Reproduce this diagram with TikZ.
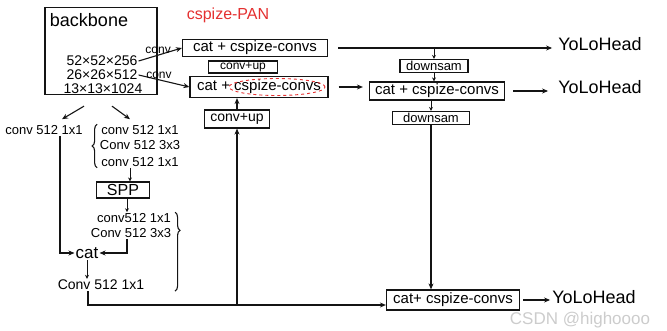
\documentclass[tikz,border=0pt]{standalone}
\usepackage{fontspec}
\setmainfont{Liberation Sans}
\usetikzlibrary{arrows.meta, positioning, shapes.geometric, decorations.pathreplacing, calc}
\definecolor{pen}{RGB}{20,20,20}
\definecolor{redpen}{RGB}{228,48,48}
\newcommand{\fsz}[1]{\fontsize{#1}{#1}\selectfont}
\tikzset{
  % --- Khoi ---------------------------------------------------
  catbox/.style={draw=pen, line width=1.2pt, inner sep=0pt, font=\fsz{15}},
  smallbox/.style={draw=pen, line width=1.1pt, inner sep=0pt, font=\fsz{13}},
  txt/.style={inner sep=1pt, font=\fsz{13}},
  head/.style={inner sep=0pt, font=\fsz{18}},
  redtxt/.style={inner sep=0pt, text=redpen, font=\fsz{16}},
  ring/.style={draw=redpen, dashed, ellipse, line width=0.9pt, inner sep=0pt},
  wm/.style={inner sep=0pt, text=gray!40, font=\fsz{17}},
  % --- Duong noi ----------------------------------------------
  arr/.style={-{Stealth[length=6pt, width=5pt]}, line width=1.1pt, draw=pen},
  arrs/.style={-{Stealth[length=4pt, width=4pt]}, line width=1pt, draw=pen},
  lbl/.style={font=\fsz{12}, inner sep=1pt},
  brc/.style={decorate, decoration={brace, amplitude=5pt}, line width=1.1pt, draw=pen}
}

\begin{document}
\begin{tikzpicture}[x=1pt, y=-1pt]
  \useasboundingbox (0,0) rectangle (667,331);

  % --- Watermark -----------------------------------------------
  \node[wm] (WM) at (580,320) {CSDN @highoooo};

  % --- Backbone ------------------------------------------------
  \node[draw=pen, line width=1.3pt, minimum width=112pt, minimum height=87pt] (BB) at (101,51) {};
  \node[txt, font=\fsz{18}] (BBN) at (89,20) {backbone};
  \node[txt, font=\fsz{14}] (F52) at (102,61) {52×52×256};
  \node[txt, font=\fsz{14}] (F26) at (102,75) {26×26×512};
  \node[txt, font=\fsz{14}] (F13) at (103,89) {13×13×1024};

  % --- cspize-PAN ----------------------------------------------
  \node[redtxt] (PAN) at (228,15) {cspize-PAN};
  \node[catbox, minimum width=145pt, minimum height=17pt] (CAT1) at (255,48) {cat + cspize-convs};
  \node[smallbox, font=\fsz{12}, minimum width=69pt, minimum height=12pt] (UP1) at (243,67) {conv+up};
  \node[catbox, minimum width=138pt, minimum height=21pt] (CAT2) at (259,87) {cat + cspize-convs};
  \node[ring, minimum width=96pt, minimum height=17pt] (RING) at ([xshift=18pt]CAT2.center) {};
  \node[smallbox, font=\fsz{14}, minimum width=65pt, minimum height=18pt] (UP2) at (237,119) {conv+up};

  % --- Cot phai: downsample ------------------------------------
  \node[smallbox, minimum width=68pt, minimum height=13pt] (DS1) at (434,66) {downsam};
  \node[catbox, minimum width=135pt, minimum height=18pt] (CAT3) at (437,91) {cat + cspize-convs};
  \node[smallbox, minimum width=77pt, minimum height=13pt] (DS2) at (431,118) {downsam};
  \node[catbox, minimum width=133pt, minimum height=20pt] (CAT4) at (453,300) {cat+ cspize-convs};

  \node[head] (H1) at (600,44) {YoLoHead};
  \node[head] (H2) at (600,87) {YoLoHead};
  \node[head] (H3) at (594,297) {YoLoHead};

  % --- Cot trai: SPP -------------------------------------------
  \node[txt] (CLA) at (44,130) {conv 512 1x1};
  \node[txt] (RC1) at (140,130) {conv 512 1x1};
  \node[txt] (RC2) at (140,145) {Conv 512 3x3};
  \node[txt] (RC3) at (140,162) {conv 512 1x1};
  \node[smallbox, font=\fsz{16}, minimum width=53pt, minimum height=16pt] (SPP) at (123,190) {SPP};
  \node[txt] (RD1) at (134,218) {conv512 1x1};
  \node[txt] (RD2) at (131,233) {Conv 512 3x3};
  \node[txt, font=\fsz{17}] (CATL) at (87,253) {cat};
  \node[txt, font=\fsz{14}] (CL) at (101,285) {Conv 512 1x1};

  % --- Backbone -> PAN -----------------------------------------
  \draw[arr] (F52.east) -- (CAT1.west) node[lbl, above, pos=0.45] {conv};
  \draw[arr] (F26.east) -- (CAT2.west) node[lbl, above, pos=0.4] {conv};
  \draw[arr] ([xshift=-17pt,yshift=-11pt]BB.south) -- ([xshift=18pt,yshift=5pt]CLA.north);
  \draw[arr] ([xshift=11pt,yshift=-11pt]BB.south) -- ([xshift=-10pt,yshift=5pt]RC1.north);

  % --- SPP nhanh -----------------------------------------------
  \draw[brc] ([xshift=-3pt]RC3.south west) -- ([xshift=-3pt]RC1.north west);
  \draw[arrs] ([xshift=-10pt]RC3.south) -- ([xshift=7pt]SPP.north);
  \draw[arrs] ([xshift=4pt]SPP.south) -- ([xshift=-7pt]RD1.north);
  \draw[arr] ([xshift=16pt]CLA.south) |- (CATL.west);
  \draw[arr] ([xshift=-4pt]RD2.south) |- (CATL.east);
  \draw[arrs] (CATL.south) -- (CATL.south |- CL.north);
  \draw[brc, decoration={brace, amplitude=5pt, aspect=0.23}]
    ([xshift=3pt]RD1.north east) -- ([xshift=3pt]RD1.north east |- CL.south);

  % --- Duong duoi ----------------------------------------------
  \coordinate (BR) at ([yshift=-5pt]CAT4.west);
  \draw[arr] ([xshift=-13pt]CL.south) |- (BR);
  \draw[arr] (BR -| UP2.south) -- (UP2.south);
  \draw[arr] (UP2.north) -- (UP2.north |- CAT2.south);

  % --- PAN -> YoLoHead -----------------------------------------
  \draw[arr, shorten <=10pt, shorten >=6pt] (CAT1.east) -- (CAT1.east -| H1.west);
  \draw[arrs] (DS1.north |- CAT1.east) -- (DS1.north);
  \draw[arrs] (DS1.south) -- (DS1.south |- CAT3.north);
  \draw[arr, shorten <=10pt, shorten >=6pt] (CAT2.east) -- (CAT2.east -| CAT3.west);
  \draw[arr, shorten <=8pt, shorten >=10pt] (CAT3.east) -- (CAT3.east -| H2.west);
  \draw[arrs] (CAT3.south -| DS2.north) -- (DS2.north);
  \draw[arr] (DS2.south) -- (DS2.south |- CAT4.north);
  \draw[arr, shorten <=3pt, shorten >=2pt] (CAT4.east) -- (CAT4.east -| H3.west);

\end{tikzpicture}
\end{document}
